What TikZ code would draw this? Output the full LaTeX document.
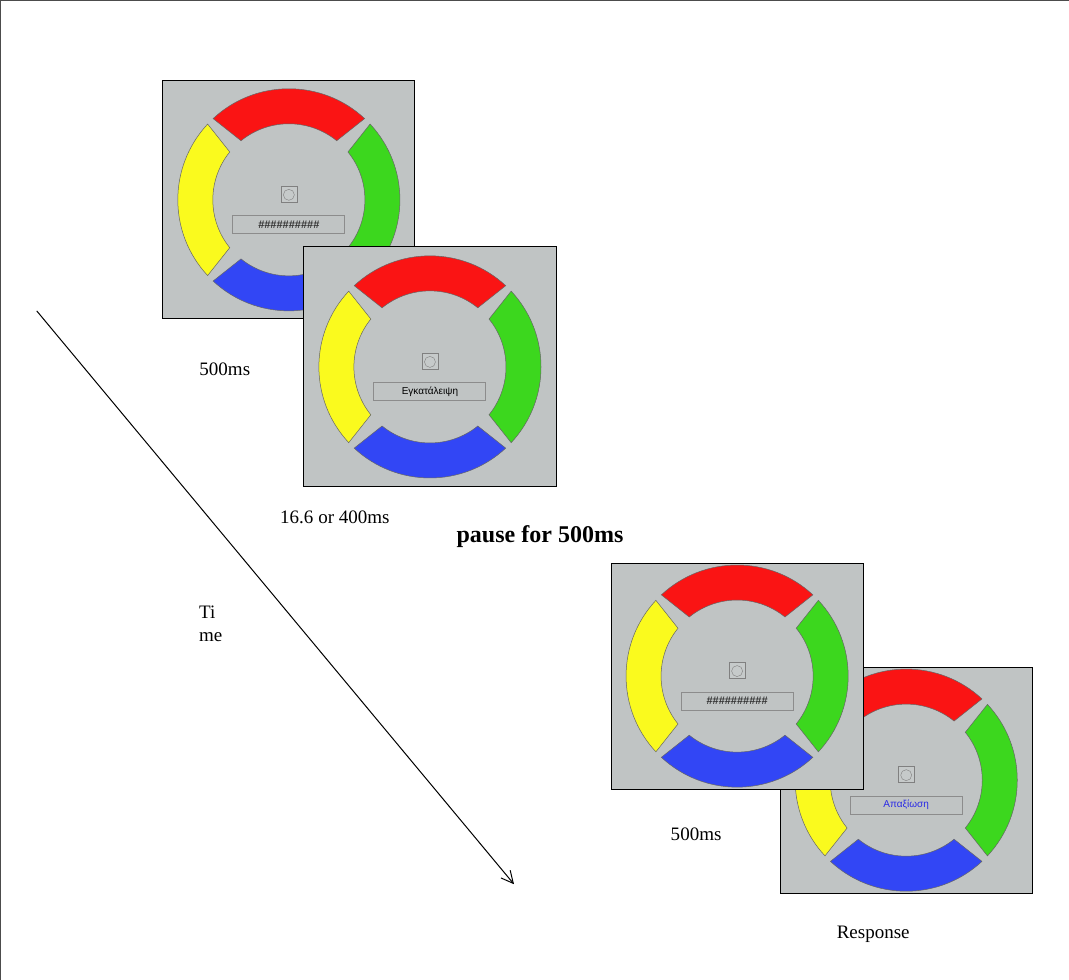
\documentclass[tikz,border=0pt]{standalone}
\usetikzlibrary{arrows.meta}
\usepackage{fontspec}
\setmainfont{Liberation Serif}
\newfontfamily\boxfont{Liberation Sans}
\definecolor{pgray}{RGB}{192,196,196}
\definecolor{sred}{RGB}{250,20,20}
\definecolor{sgreen}{RGB}{60,215,30}
\definecolor{sblue}{RGB}{50,70,245}
\definecolor{syellow}{RGB}{250,250,30}
\definecolor{txtblue}{RGB}{40,40,230}
\tikzset{seg/.style={draw=black!60,line width=0.5pt},
 lbl/.style={font=\fontsize{19}{23}\selectfont,inner sep=0pt}}
\newcommand{\hashes}{\#\#\#\#\#\#\#\#\#\#}
\newcommand{\mypanel}[6]{%
\begin{scope}[shift={(#1pt,#2pt)},x=1pt,y=1pt]
\fill[pgray,draw=black,line width=1pt] (-126,-#3) rectangle (126,#3);
\foreach \a/\c in {90/sred,0/sgreen,270/sblue,180/syellow}{
 \filldraw[seg,fill=\c] (\a-43:111) arc (\a-43:\a+43:111) -- (\a+39:76) arc (\a+39:\a-39:76) -- cycle;}
\draw[gray,fill=pgray!90!white] (-8,-2) rectangle (8,14);
\draw[gray] (0,5) circle (5.5);
\draw[black!45,line width=1pt] (-56,-34) rectangle (56,-16);
\node[font=\boxfont\fontsize{#5}{12}\selectfont,text=#6] at (0,-25) {#4};
\end{scope}}
\begin{document}
\begin{tikzpicture}[x=1pt,y=-1pt]
\draw[black!70] (0.5,0.5) rectangle (1068.5,979.5);
\mypanel{289}{-200}{119}{\textbf{\hashes}}{11}{black!80}
\mypanel{430}{-367}{120}{Εγκατάλειψη}{10}{black}
\mypanel{906}{-780}{113}{Απαξίωση}{10}{txtblue}
\mypanel{737}{-676}{113}{\textbf{\hashes}}{11}{black!80}
\coordinate (s) at (37,311);
\coordinate (e) at (514,884);
\draw[-{Straight Barb[length=12pt,width=12pt]},line width=1pt] (s) -- (e);
\node[lbl] (t1) at (225,369) {500ms};
\node[lbl] (t2) at (335,517) {16.6 or 400ms};
\node[lbl,font=\fontsize{24}{28}\selectfont\bfseries] (t3) at (540,537) {pause for 500ms};
\node[lbl,align=left] (t4) at (211,624) {Ti\\me};
\node[lbl] (t5) at (696,834) {500ms};
\node[lbl] (t6) at (873,934) {Response};
\end{tikzpicture}
\end{document}
